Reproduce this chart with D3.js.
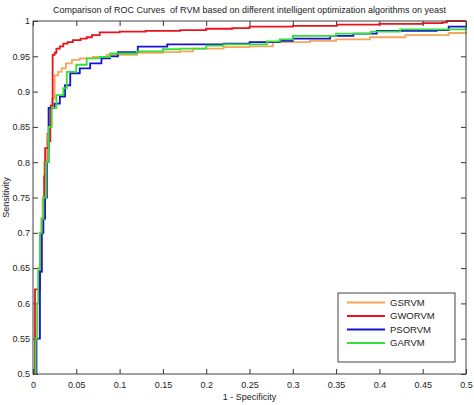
<!DOCTYPE html>
<meta charset="utf-8">
<style>
    body { margin: 0; background: #fff; }
    svg { font-family: "Liberation Sans Narrow", "Arial Narrow", "Liberation Sans", sans-serif; }
    .axis path { display: none; }
    .axis line { stroke: #333; }
    .axis text { font-size: 9px; fill: #222; }
</style>
<body>
<div id="plotarea"></div>
<script src="https://cdn.jsdelivr.net/npm/d3@7/dist/d3.min.js"></script>
<script>

    var seriesNames = ["GSRVM", "GWORVM", "PSORVM", "GARVM"];
    var seriesColors = ["#f7a65c", "#e8131c", "#1414d2", "#36e036"];

    var xTicks = [0, 0.05, 0.1, 0.15, 0.2, 0.25, 0.3, 0.35, 0.4, 0.45, 0.5];
    var xTickLabels = ["0", "0.05", "0.1", "0.15", "0.2", "0.25", "0.3", "0.35", "0.4", "0.45", "0.5"];
    var yTicks = [0.5, 0.55, 0.6, 0.65, 0.7, 0.75, 0.8, 0.85, 0.9, 0.95, 1];
    var yTickLabels = ["0.5", "0.55", "0.6", "0.65", "0.7", "0.75", "0.8", "0.85", "0.9", "0.95", "1"];

    // 1 - specificity / sensitivity pairs
    var gsrvmX = [0.003, 0.003, 0.005, 0.007, 0.009, 0.011, 0.013, 0.016, 0.0196, 0.022, 0.025, 0.029, 0.033, 0.038, 0.045, 0.054, 0.069, 0.085, 0.12, 0.15, 0.17, 0.185, 0.22, 0.25, 0.277, 0.32, 0.35, 0.389, 0.43, 0.48, 0.5];
    var gsrvmY = [0.5, 0.56, 0.6, 0.65, 0.7, 0.75, 0.8, 0.84, 0.874, 0.89, 0.923, 0.928, 0.933, 0.94, 0.945, 0.947, 0.949, 0.952, 0.955, 0.956, 0.957, 0.961, 0.963, 0.964, 0.97, 0.972, 0.974, 0.977, 0.98, 0.983, 0.985];

    var gworvmX = [0.0023, 0.0023, 0.008, 0.010, 0.013, 0.014, 0.018, 0.020, 0.0205, 0.0227, 0.025, 0.027, 0.031, 0.035, 0.040, 0.046, 0.055, 0.062, 0.068, 0.077, 0.10, 0.13, 0.17, 0.20, 0.23, 0.25, 0.30, 0.351, 0.40, 0.45, 0.473, 0.478, 0.5];
    var gworvmY = [0.5, 0.62, 0.645, 0.72, 0.78, 0.82, 0.83, 0.85, 0.88, 0.952, 0.955, 0.961, 0.964, 0.968, 0.97, 0.973, 0.975, 0.977, 0.98, 0.984, 0.985, 0.986, 0.987, 0.989, 0.99, 0.992, 0.993, 0.995, 0.996, 0.997, 0.998, 1.0, 1.0];

    var psorvmX = [0.004, 0.004, 0.008, 0.008, 0.010, 0.012, 0.014, 0.016, 0.018, 0.025, 0.031, 0.037, 0.043, 0.054, 0.066, 0.079, 0.089, 0.098, 0.121, 0.155, 0.22, 0.25, 0.285, 0.30, 0.343, 0.37, 0.397, 0.466, 0.48, 0.5];
    var psorvmY = [0.5, 0.55, 0.555, 0.645, 0.7, 0.72, 0.75, 0.8, 0.877, 0.883, 0.893, 0.909, 0.926, 0.933, 0.94, 0.947, 0.95, 0.956, 0.9636, 0.967, 0.968, 0.97, 0.972, 0.975, 0.979, 0.982, 0.986, 0.987, 0.992, 0.993];

    var garvmX = [0.0023, 0.003, 0.005, 0.006, 0.008, 0.010, 0.012, 0.015, 0.018, 0.0216, 0.027, 0.035, 0.039, 0.05, 0.062, 0.077, 0.089, 0.12, 0.15, 0.17, 0.20, 0.22, 0.27, 0.285, 0.30, 0.35, 0.39, 0.424, 0.5];
    var garvmY = [0.5, 0.55, 0.6, 0.65, 0.7, 0.72, 0.75, 0.8, 0.85, 0.877, 0.895, 0.905, 0.928, 0.938, 0.947, 0.949, 0.954, 0.957, 0.96, 0.961, 0.965, 0.967, 0.971, 0.974, 0.979, 0.982, 0.985, 0.988, 0.991];

    var seriesX = [gsrvmX, gworvmX, psorvmX, garvmX];
    var seriesY = [gsrvmY, gworvmY, psorvmY, garvmY];

    var margin = {top: 21, right: 8, bottom: 31, left: 33},
            width = 474 - margin.left - margin.right,
            height = 405 - margin.top - margin.bottom;

    var x = d3.scaleLinear().domain([0, 0.5]).range([0, width]);
    var y = d3.scaleLinear().domain([0.5, 1]).range([height, 0]);

    var root = d3.select("#plotarea").append("svg")
            .attr("width", 474)
            .attr("height", 405);

    root.append("text")
            .attr("x", margin.left + width / 2)
            .attr("y", 13)
            .attr("text-anchor", "middle")
            .style("font-size", "9px")
            .style("white-space", "pre")
            .style("fill", "#222")
            .text("Comparison of ROC Curves  of RVM based on different intelligent optimization algorithms on yeast");

    var svg = root.append("g")
            .attr("transform", "translate(" + margin.left + "," + margin.top + ")");

    svg.append("rect")
            .attr("width", width)
            .attr("height", height)
            .attr("fill", "#fff");

    svg.append("g")
            .attr("class", "x axis")
            .attr("transform", "translate(0," + height + ")")
            .call(d3.axisBottom(x).tickValues(xTicks).tickSizeInner(-5).tickSizeOuter(0).tickPadding(8)
                    .tickFormat(function(d, i) { return xTickLabels[i]; }));

    svg.append("g")
            .attr("class", "x axis")
            .call(d3.axisTop(x).tickValues(xTicks).tickSizeInner(-5).tickSizeOuter(0).tickFormat(""));

    svg.append("g")
            .attr("class", "y axis")
            .call(d3.axisLeft(y).tickValues(yTicks).tickSizeInner(-5).tickSizeOuter(0).tickPadding(3)
                    .tickFormat(function(d, i) { return yTickLabels[i]; }));

    svg.append("g")
            .attr("class", "y axis")
            .attr("transform", "translate(" + width + ",0)")
            .call(d3.axisRight(y).tickValues(yTicks).tickSizeInner(-5).tickSizeOuter(0).tickFormat(""));

    var line = d3.line()
            .curve(d3.curveStepAfter)
            .x(function(d) { return x(d[0]); })
            .y(function(d) { return y(d[1]); });

    var series = seriesNames.map(function(name, i) {
        return {
            name: name,
            color: seriesColors[i],
            values: seriesX[i].map(function(v, j) { return [v, seriesY[i][j]]; })
        };
    });

    svg.selectAll(".roc")
            .data(series)
            .enter().append("path")
            .attr("class", "roc")
            .attr("fill", "none")
            .attr("stroke", function(d) { return d.color; })
            .attr("stroke-width", 1.8)
            .attr("d", function(d) { return line(d.values); });

    svg.append("rect")
            .attr("width", width)
            .attr("height", height)
            .attr("fill", "none")
            .attr("stroke", "#444")
            .attr("stroke-width", 1);

    svg.append("text")
            .attr("x", width / 2)
            .attr("y", height + 26)
            .attr("text-anchor", "middle")
            .style("font-size", "9px")
            .style("fill", "#222")
            .text("1 - Specificity");

    svg.append("text")
            .attr("transform", "translate(" + (-24) + "," + (height / 2) + ") rotate(-90)")
            .attr("text-anchor", "middle")
            .style("font-size", "9px")
            .style("fill", "#222")
            .text("Sensitivity");

    // legend
    var legend = svg.append("g")
            .attr("transform", "translate(" + (338 - margin.left) + "," + (293 - margin.top) + ")");

    legend.append("rect")
            .attr("width", 117)
            .attr("height", 69)
            .attr("fill", "#fff")
            .attr("stroke", "#444");

    var item = legend.selectAll(".item")
            .data(series)
            .enter().append("g")
            .attr("class", "item")
            .attr("transform", function(d, i) { return "translate(0," + (9.5 + i * 13.5) + ")"; });

    item.append("line")
            .attr("x1", 9)
            .attr("x2", 47)
            .attr("stroke", function(d) { return d.color; })
            .attr("stroke-width", 1.8);

    item.append("text")
            .attr("x", 52)
            .attr("dy", "0.35em")
            .style("font-size", "9.5px")
            .style("fill", "#222")
            .text(function(d) { return d.name; });

</script>
</body>
